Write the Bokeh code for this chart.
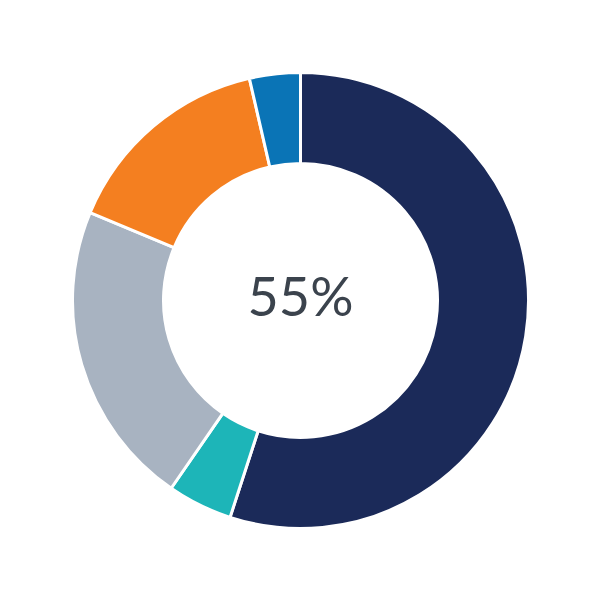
from math import pi

from bokeh.plotting import figure
from bokeh.models import ColumnDataSource
from bokeh.core.properties import value
from bokeh.embed import file_html
from bokeh.resources import INLINE

# share of each slice, clockwise from 12 o'clock
labels = ["Navy", "Teal", "Gray", "Orange", "Blue"]
shares = [55.0, 4.6, 21.7, 15.1, 3.6]
colors = ["#1b2a59", "#1db5b8", "#a8b3c1", "#f47f20", "#0a74b6"]
center_label = "55%"

# angles (clockwise from the top)
total = sum(shares)
starts, ends = [], []
acc = 0.0
for s in shares:
    starts.append(pi / 2 - acc / total * 2 * pi)
    acc += s
    ends.append(pi / 2 - acc / total * 2 * pi)

source = ColumnDataSource(dict(label=labels, share=shares, color=colors,
                               start=starts, end=ends))

# ring centred at (300, 300) of the page
p = figure(width=584, height=584, x_range=(-300, 284), y_range=(-284, 300),
           output_backend="svg", toolbar_location=None, min_border=0)

p.annular_wedge(x=0, y=0, inner_radius=137, outer_radius=228,
                start_angle="start", end_angle="end", direction="clock",
                fill_color="color", line_color="white", line_width=3,
                source=source)

p.text(x=[0], y=[0], text=[center_label], text_align="center",
       text_baseline="middle", y_offset=-5, text_font=value("Lato"),
       text_font_size="54px", text_color="#3b434d")

p.axis.visible = False
p.grid.visible = False
p.outline_line_color = None
p.background_fill_color = "white"
p.border_fill_color = "white"

open("out.html", "w").write(file_html(p, INLINE))
